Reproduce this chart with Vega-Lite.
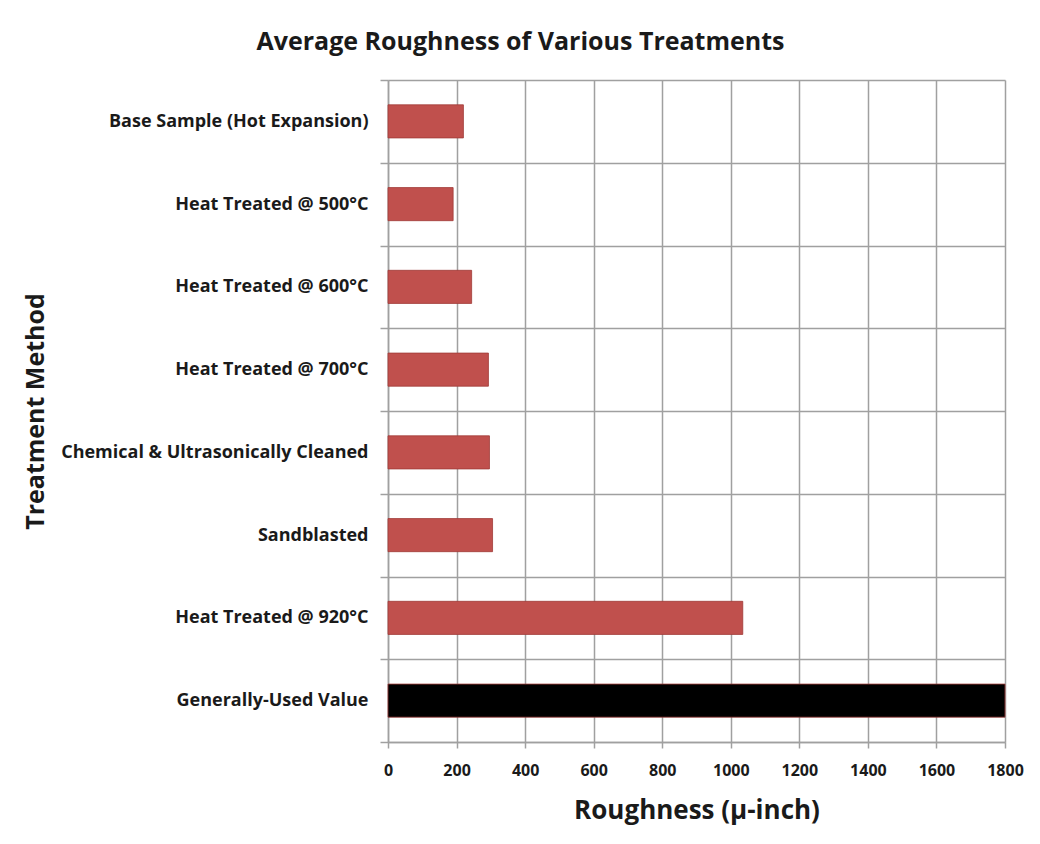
{
  "$schema": "https://vega.github.io/schema/vega-lite/v6.json",
  "autosize": "none",
  "width": 617,
  "height": 662,
  "padding": {"left": 388, "top": 80, "right": 35, "bottom": 102},
  "background": "white",
  "title": {
    "text": "Average Roughness of Various Treatments",
    "font": "Open Sans",
    "fontSize": 25,
    "fontWeight": "bold",
    "color": "#1a1a1a",
    "anchor": "middle",
    "dx": -176,
    "offset": 16
  },
  "data": {
    "values": [
      {"treatment": "Base Sample (Hot Expansion)", "roughness": 220},
      {"treatment": "Heat Treated @ 500°C", "roughness": 190},
      {"treatment": "Heat Treated @ 600°C", "roughness": 244},
      {"treatment": "Heat Treated @ 700°C", "roughness": 293},
      {"treatment": "Chemical & Ultrasonically Cleaned", "roughness": 296},
      {"treatment": "Sandblasted", "roughness": 305},
      {"treatment": "Heat Treated @ 920°C", "roughness": 1035},
      {"treatment": "Generally-Used Value", "roughness": 1800}
    ]
  },
  "mark": {"type": "bar", "height": {"band": 0.4}, "stroke": "#a03a37", "strokeWidth": 0.8},
  "encoding": {
    "y": {
      "field": "treatment",
      "type": "nominal",
      "sort": null,
      "scale": {"paddingInner": 0, "paddingOuter": 0},
      "axis": {
        "title": "Treatment Method",
        "titleFont": "Open Sans",
        "titleFontSize": 25,
        "titleFontWeight": "bold",
        "titleColor": "#1a1a1a",
        "titleX": -353,
        "titleY": 331,
        "titleAngle": -90,
        "titleAlign": "center",
        "titleBaseline": "middle",
        "labelFont": "Open Sans",
        "labelFontSize": 18,
        "labelFontWeight": "bold",
        "labelColor": "#1a1a1a",
        "labelPadding": 12,
        "labelLimit": 400,
        "tickBand": "extent",
        "tickSize": 8,
        "tickColor": "#a0a0a0",
        "tickWidth": 1.5,
        "grid": true,
        "gridColor": "#a0a0a0",
        "gridWidth": 1.5,
        "domainColor": "#a0a0a0",
        "domainWidth": 1.5
      }
    },
    "x": {
      "field": "roughness",
      "type": "quantitative",
      "scale": {"domain": [0, 1800], "nice": false},
      "axis": {
        "title": "Roughness (µ-inch)",
        "titleFont": "Open Sans",
        "titleFontSize": 26,
        "titleFontWeight": "bold",
        "titleColor": "#1a1a1a",
        "titleY": 68,
        "titleBaseline": "middle",
        "values": [0, 200, 400, 600, 800, 1000, 1200, 1400, 1600, 1800],
        "format": "d",
        "labelFont": "Open Sans",
        "labelFontSize": 16,
        "labelFontWeight": "bold",
        "labelColor": "#1a1a1a",
        "labelPadding": 14,
        "labelFlush": false,
        "tickSize": 6,
        "tickColor": "#a0a0a0",
        "tickWidth": 1.5,
        "grid": true,
        "gridColor": "#a0a0a0",
        "gridWidth": 1.5,
        "domainColor": "#a0a0a0",
        "domainWidth": 1.5
      }
    },
    "color": {
      "condition": {"test": "datum.treatment === 'Generally-Used Value'", "value": "#000000"},
      "value": "#c0504d"
    }
  },
  "config": {"view": {"stroke": null}}
}
